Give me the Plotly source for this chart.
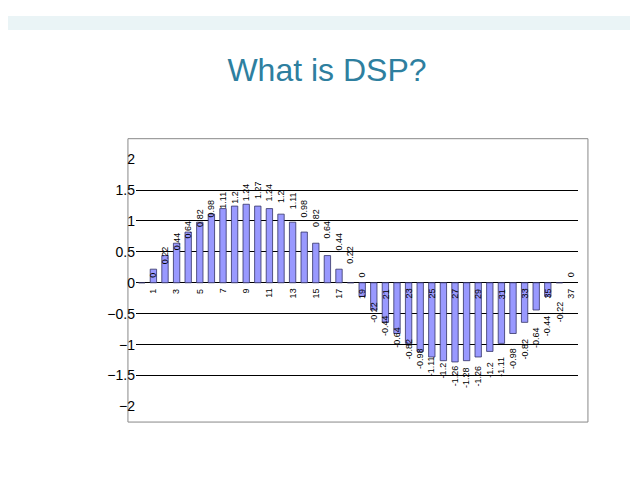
import plotly.graph_objects as go

categories = [str(i) for i in range(1, 38)]
values = [0, 0.22, 0.44, 0.64, 0.82, 0.98, 1.11, 1.2, 1.24, 1.27, 1.24, 1.2, 1.11, 0.98, 0.82, 0.64, 0.44, 0.22, 0,
          -0.22, -0.44, -0.64, -0.82, -0.98, -1.11, -1.2, -1.26, -1.28, -1.26, -1.2, -1.11, -0.98, -0.82, -0.64, -0.44, -0.22, 0]
tick_labels = [c if int(c) % 2 == 1 else "" for c in categories]
y_ticks = [2, 1.5, 1, 0.5, 0, -0.5, -1, -1.5, -2]

fig = go.Figure(go.Bar(
    x=categories, y=values,
    marker=dict(color="#9999FF", line=dict(color="#333366", width=0.8)),
))
for c, v in zip(categories, values):
    fig.add_annotation(x=c, y=v, text=f"{v:g}", textangle=-90, showarrow=False,
                       yanchor="bottom" if v >= 0 else "top", yshift=3 if v >= 0 else -3,
                       font=dict(size=9, color="black"))
for c, t in zip(categories, tick_labels):
    if t:
        fig.add_annotation(x=c, y=0, text=t, textangle=-90, showarrow=False,
                           yanchor="top", yshift=-4, font=dict(size=9, color="black"))

fig.add_shape(type="rect", xref="paper", yref="paper", x0=0.188, x1=0.909, y0=0.123, y1=0.735,
              line=dict(color="#888", width=1), layer="below")
fig.add_shape(type="rect", xref="paper", yref="paper", x0=0, x1=1, y0=0.97, y1=1,
              line=dict(width=0), fillcolor="#EAF4F6", layer="below")

fig.update_layout(
    width=638, height=479, margin=dict(l=0, r=0, t=0, b=0),
    paper_bgcolor="white", plot_bgcolor="white", showlegend=False, bargap=0.45,
    font=dict(family="Liberation Sans"),
    title=dict(text="What is DSP?", x=0.5, y=0.87, xanchor="center", yanchor="middle",
               font=dict(size=32, color="#2E7F9F")),
    xaxis=dict(domain=[128/638, 570/638], showticklabels=False, showgrid=False,
               zeroline=False, showline=False, ticks=""),
    yaxis=dict(domain=[1-404/479, 1-148/479], range=[-2.001, 2.001], tickvals=y_ticks,
               showgrid=True, gridcolor="black", gridwidth=1, zeroline=True,
               zerolinecolor="black", zerolinewidth=1, tickfont=dict(size=14, color="black"),
               ticks="", showline=False),
)
fig.write_html("out.html")
